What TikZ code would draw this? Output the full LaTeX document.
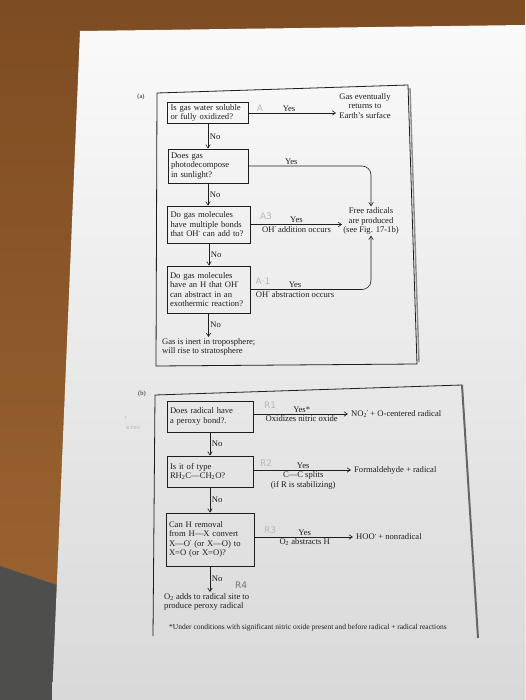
\documentclass[tikz,border=0pt]{standalone}
\usepackage{fontspec}
\setmainfont{Liberation Serif}
\newfontfamily\hwf{DejaVu Sans}
\usetikzlibrary{arrows.meta,calc}
\newcommand\bxf{\fontsize{8.6}{9.5}\selectfont}
\newcommand\ftf{\fontsize{7.5}{8}\selectfont}
\newcommand\smf{\fontsize{6.5}{7}\selectfont}
\newcommand\rd{\raisebox{0.95ex}{\fontsize{4}{4}\selectfont\textbullet}}
\definecolor{woodA}{HTML}{7E4C22}
\definecolor{woodB}{HTML}{9E6633}
\definecolor{floor}{HTML}{4E4E4C}
\definecolor{ink}{HTML}{1E1E1E}
\begin{document}
\begin{tikzpicture}[x=1pt,y=-1pt,
  qbox/.style={draw=ink, line width=0.75pt, align=left, inner xsep=3pt, inner ysep=2pt, font=\bxf, text=ink},
  txt/.style={font=\bxf, text=ink, inner sep=1pt},
  lbl/.style={font=\bxf, text=ink, inner sep=1.5pt},
  arr/.style={draw=ink, line width=0.6pt, -{Straight Barb[length=3.5pt,width=4.5pt]}},
  hw/.style={font=\hwf\fontsize{9}{9}\selectfont, text=black!28, inner sep=0pt},
  frm/.style={draw=ink, line width=0.8pt}]
\useasboundingbox (0,0) rectangle (525,700);
% photo background
\shade[top color=woodA, bottom color=woodB] (0,0) rectangle (525,700);
\fill[floor] (0,566) -- (57,585) -- (52,700) -- (0,700) -- cycle;
\shade[top color=white!96!gray, bottom color=black!15] (80,31) -- (525,25) -- (525,700) -- (52,700) -- cycle;
% ---------------- (a) ----------------
\node[txt, font=\smf] (la) at (141,97) {(a)};
\draw[frm] (157,93) -- (408,85) -- (417,364) -- (156,366) -- cycle;
\draw[black!45, line width=1.4pt] (410,88) -- (419,362);

\node[qbox, text width=75, minimum height=20] (a1) at (208,113) {Is gas water soluble\\or fully oxidized?};
\node[qbox, text width=74, minimum height=34] (a2) at (208,166) {Does gas\\photodecompose\\in sunlight?};
\node[qbox, text width=77, minimum height=37] (a3) at (209,224.5) {Do gas molecules\\have multiple bonds\\that OH\rd{} can add to?};
\node[qbox, text width=77, minimum height=47] (a4) at (208.5,289.5) {Do gas molecules\\have an H that OH\rd\\can abstract in an\\exothermic reaction?};
\node[txt, align=center] (ra1) at (365,106) {Gas eventually\\returns to\\Earth's surface};
\node[txt, align=center] (fr) at (371,221) {Free radicals\\are produced\\(see Fig. 17-1b)};
\node[txt, align=left, anchor=north west] (ina) at (161,337) {Gas is inert in troposphere;\\will rise to stratosphere};

\draw[arr, shorten >=2pt] (a1.east) -- node[lbl, above, pos=0.45]{Yes} (a1.east -| ra1.west);
\draw[arr, rounded corners=9pt] (a2.east) -- node[lbl, above, pos=0.35]{Yes} (a2.east -| fr.north) -- (fr.north);
\draw[arr] (a3.east) -- node[lbl, above]{Yes} node[lbl, below]{OH\rd{} addition occurs} (a3.east -| fr.west);
\draw[arr, rounded corners=9pt] (a4.east) -- node[lbl, above, pos=0.37]{Yes} node[lbl, below, pos=0.37]{OH\rd{} abstraction occurs} (a4.east -| fr.south) -- (fr.south);
\draw[arr] (a1.south) -- node[lbl, right]{No} (a1.south |- a2.north);
\draw[arr] (a2.south) -- node[lbl, right]{No} (a2.south |- a3.north);
\draw[arr] (a3.south) -- node[lbl, right]{No} (a3.south |- a4.north);
\draw[arr] (a4.south) -- node[lbl, right]{No} (a4.south |- ina.north);

% ---------------- (b) ----------------
\node[txt, font=\smf] (lb) at (142,394) {(b)};
\draw[frm] (153,636) -- (155,395) -- (462,385);
\draw[black!60, line width=2pt] (462,385) -- (478,638);

\node[qbox, text width=80, minimum height=31] (b1) at (210,416.5) {Does radical have\\a peroxy bond?.};
\node[qbox, text width=80, minimum height=31] (b2) at (210,471.5) {Is it of type\\RH\textsubscript{2}C—CH\textsubscript{2}O?};
\node[qbox, text width=82, minimum height=53] (b3) at (210,539.5) {Can H removal\\from H—X convert\\X—O\rd{} (or X—O) to\\X=O (or X=O)?};
\node[txt, anchor=west] (rb1) at (350,414) {NO\textsubscript{2}\kern-0.2pt\rd{} + O-centered radical};
\node[txt, anchor=west] (rb2) at (353,470) {Formaldehyde + radical};
\node[txt, anchor=west] (rb3) at (355,537) {HOO\rd{} + nonradical};
\node[txt, align=left, anchor=north west] (pr) at (163,592) {O\textsubscript{2} adds to radical site to\\produce peroxy radical};

\draw[arr, shorten >=2pt] (b1.east |- rb1.west) -- node[lbl, above]{Yes*} node[lbl, below]{Oxidizes nitric oxide} (rb1.west);
\draw[arr, shorten >=2pt] (b2.east |- rb2.west) -- node[lbl, above]{Yes} node[lbl, below, align=center]{C—C splits\\(if R is stabilizing)} (rb2.west);
\draw[arr, shorten >=2pt] (b3.east |- rb3.west) -- node[lbl, above]{Yes} node[lbl, below]{O\textsubscript{2} abstracts H} (rb3.west);
\draw[arr] (b1.south) -- node[lbl, right]{No} (b1.south |- b2.north);
\draw[arr] (b2.south) -- node[lbl, right]{No} (b2.south |- b3.north);
\draw[arr] (b3.south) -- node[lbl, right]{No} (b3.south |- pr.north);

\node[txt, font=\ftf, anchor=west] (fn) at (168,628) {*Under conditions with significant nitric oxide present and before radical + radical reactions};

% handwritten annotations
\node[hw] (h1) at (260,108) {A};
\node[hw] (h2) at (266,216) {A3};
\node[hw] (h3) at (263,281) {A·1};
\node[hw] (h4) at (270,405) {R1};
\node[hw] (h5) at (266,463) {R2};
\node[hw] (h6) at (270,530) {R3};
\node[hw, text=black!55] (h7) at (241,585) {R4};
\node[hw, font=\hwf\fontsize{5}{5}\selectfont] (h8) at (126,418) {r};
\node[hw, font=\hwf\fontsize{5.5}{5.5}\selectfont] (h9) at (133,428) {a:tev};
\end{tikzpicture}
\end{document}
